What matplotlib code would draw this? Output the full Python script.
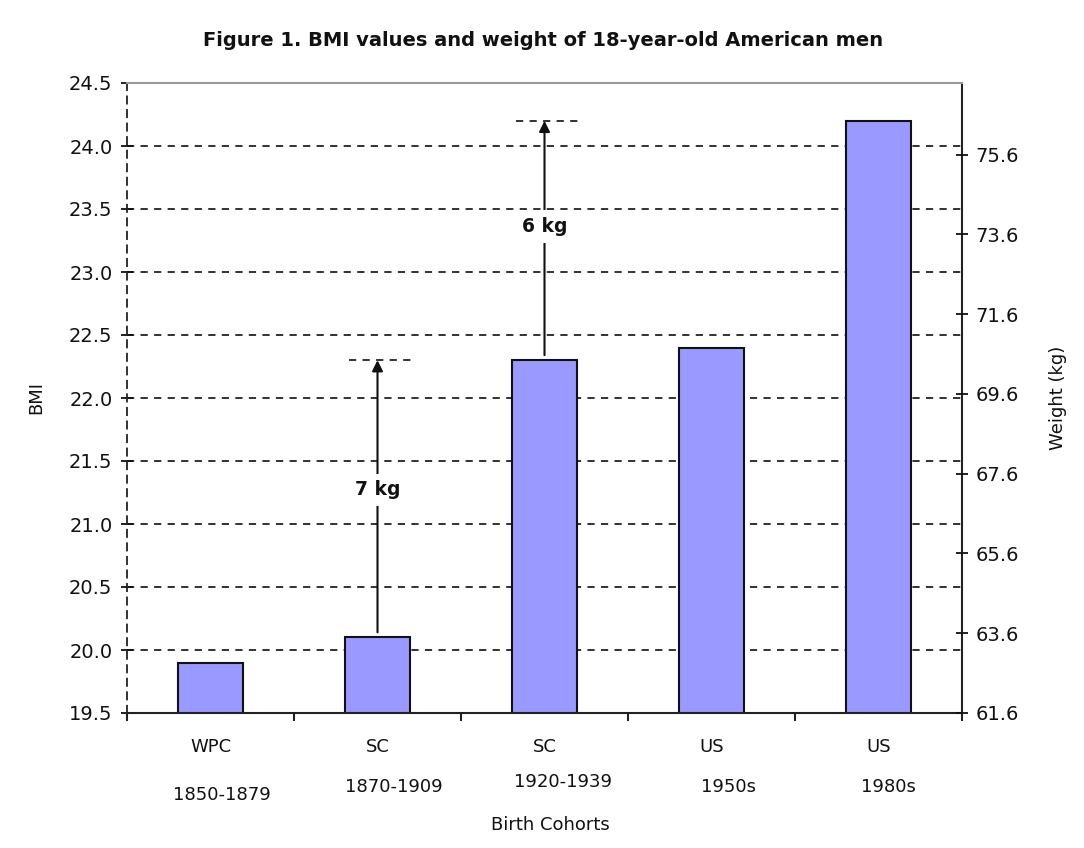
import matplotlib
matplotlib.use("Agg")
import matplotlib.pyplot as plt
import matplotlib.transforms as mtransforms
import numpy as np

# ---- data ----
groups = ["WPC", "SC", "SC", "US", "US"]
periods = ["1850-1879", "1870-1909", "1920-1939", "1950s", "1980s"]
bmi = [19.9, 20.1, 22.3, 22.4, 24.2]
bmi_ticks = [19.5, 20.0, 20.5, 21.0, 21.5, 22.0, 22.5, 23.0, 23.5, 24.0, 24.5]
weight_ticks = [61.6, 63.6, 65.6, 67.6, 69.6, 71.6, 73.6, 75.6]
# annotations: (from bar index, to bar index, label)
gain_from = [1, 2]
gain_to = [2, 4]
gain_labels = ["7 kg", "6 kg"]
gain_label_bmi = [21.27, 23.36]

title = "Figure 1. BMI values and weight of 18-year-old American men"

# ---- layout ----
plt.rcParams['font.family'] = ['DejaVu Sans']
fig = plt.figure(figsize=(10.84, 8.48), dpi=100)
ax = fig.add_axes([127/1084, 1-713/848, 835/1084, 630/848])

x = np.arange(len(bmi))
ax.bar(x, bmi, width=0.39, bottom=0, color="#9999FF", edgecolor="#111111",
       linewidth=1.5, zorder=2)
ax.set_xlim(-0.5, len(bmi) - 0.5)
ax.set_ylim(bmi_ticks[0], bmi_ticks[-1])

# gridlines
for t in bmi_ticks[1:-1]:
    ax.axhline(t, color="#222222", lw=1.3, ls=(0, (4, 3.5)), zorder=1)

# spines
ax.spines['top'].set_color("#9a9a9a")
ax.spines['top'].set_linewidth(1.5)
ax.spines['left'].set_linestyle((0, (4, 3.5)))
ax.spines['left'].set_color("#222222")
ax.spines['left'].set_linewidth(1.3)
ax.spines['right'].set_color("#222222")
ax.spines['right'].set_linewidth(1.5)
ax.spines['bottom'].set_color("#222222")
ax.spines['bottom'].set_linewidth(1.5)

ax.set_yticks(bmi_ticks)
ax.set_yticklabels([f"{t:.1f}" for t in bmi_ticks])
ax.tick_params(axis='y', direction='inout', length=9, width=1.3,
               labelsize=14, pad=6, colors="#111111")

# x ticks: boundaries as minor ticks, labels at centers
ax.set_xticks(x)
ax.set_xticklabels(groups)
ax.set_xticks(np.arange(-0.5, len(bmi)), minor=True)
ax.tick_params(axis='x', which='major', length=0, labelsize=13, pad=18,
               colors="#111111")
ax.tick_params(axis='x', which='minor', direction='out', length=6, width=1.5,
               colors="#222222")

period_dx = [0.07, 0.10, 0.11, 0.10, 0.06]
period_dy = [82, 74, 69, 74, 74]
trans = mtransforms.blended_transform_factory(ax.transData, ax.transAxes)
for i, p in enumerate(periods):
    ax.text(x[i] + period_dx[i], 0, p,
            transform=trans + mtransforms.ScaledTranslation(0, -period_dy[i]/100, fig.dpi_scale_trans),
            ha='center', va='center', fontsize=13, color="#111111")

ax.set_ylabel("BMI", fontsize=13, labelpad=17, color="#111111")
fig.text(550/1084, 1-825/848, "Birth Cohorts", ha='center', va='center',
         fontsize=13, color="#111111")

# right axis: weight = BMI * h^2, with h^2 = 61.6/19.5
ax2 = ax.twinx()
scale = weight_ticks[0] / bmi_ticks[0]
ax2.set_ylim(bmi_ticks[0] * scale, bmi_ticks[-1] * scale)
ax2.set_yticks(weight_ticks)
ax2.set_yticklabels([f"{t:.1f}" for t in weight_ticks])
ax2.tick_params(axis='y', direction='inout', length=9, width=1.3,
                labelsize=14, pad=5, colors="#111111")
for s in ax2.spines.values():
    s.set_visible(False)
ax2.set_ylabel("Weight (kg)", fontsize=13, labelpad=22, color="#111111")

# gain annotations
for f, t, lab, ly in zip(gain_from, gain_to, gain_labels, gain_label_bmi):
    xc = x[f]
    y0 = bmi[f] + 0.04
    y1 = bmi[t]
    ax.annotate("", xy=(xc, y1), xytext=(xc, y0),
                arrowprops=dict(arrowstyle='-|>', color="#111111", lw=1.5,
                                mutation_scale=16, shrinkA=0, shrinkB=0),
                zorder=3)
    ax.plot([xc - 0.17, xc + 0.2], [y1, y1], color="#222222", lw=1.3,
            ls=(0, (4, 3.5)), zorder=3)
    ax.text(xc, ly, lab, ha='center', va='center', fontsize=13.5,
            fontweight='bold', color="#111111", zorder=5,
            bbox=dict(facecolor='white', edgecolor='none', pad=5))

fig.text(543/1084, 1-40/848, title, ha='center', va='center', fontsize=14,
         fontweight='bold', color="#111111")

fig.savefig("out.png", dpi=100, facecolor='white')
